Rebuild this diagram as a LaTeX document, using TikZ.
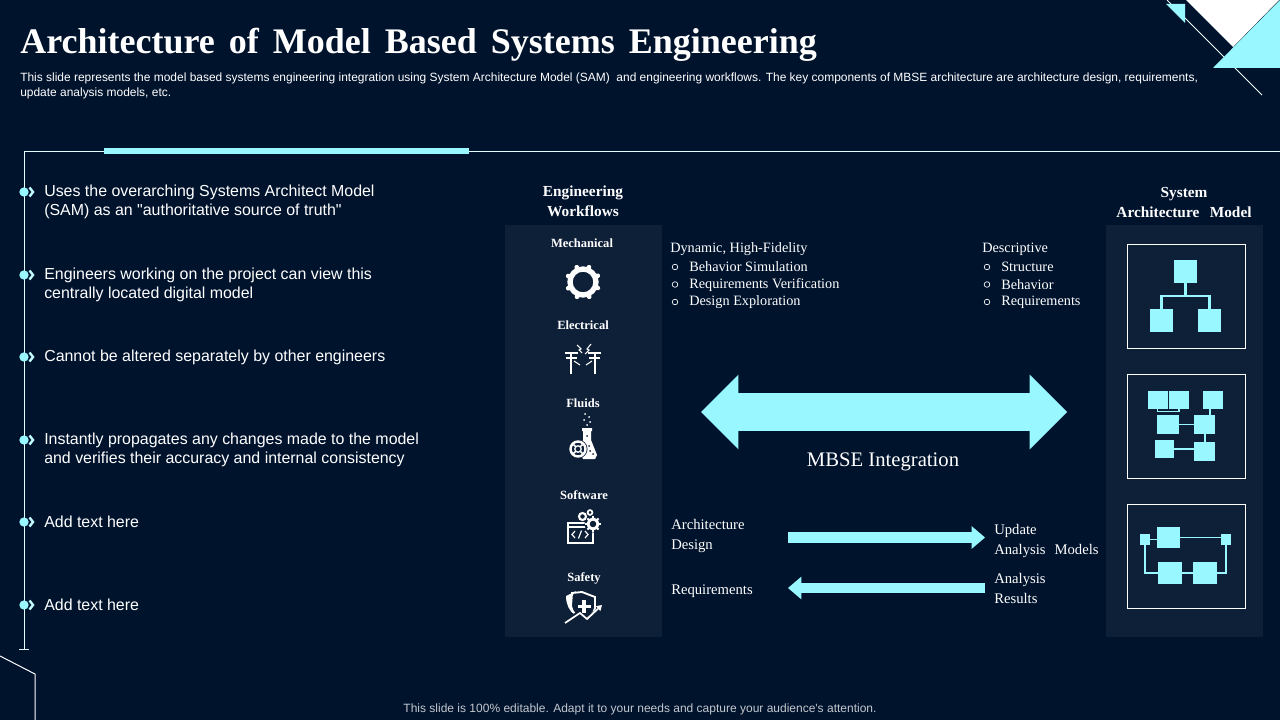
\documentclass[tikz,border=0pt]{standalone}
\usepackage{fontspec}
\setmainfont{Liberation Serif}
\newfontfamily\bodyfont{Liberation Sans}
\usetikzlibrary{arrows.meta}
\definecolor{bgnavy}{HTML}{00132D}
\definecolor{panelnavy}{HTML}{0E1F38}
\definecolor{aqua}{HTML}{99F8FF}
\definecolor{footgray}{HTML}{C4C8CE}
\tikzset{
    txt/.style={inner sep=0pt,text=white,align=left,anchor=west},
    itemtext/.style={txt,font=\bodyfont\fontsize{11.95}{14.25}\selectfont},
    serifthin/.style={txt,font=\fontsize{10.7}{13.2}\selectfont},
    serifwide/.style={txt,font=\fontsize{11}{15}\selectfont},
    heading/.style={inner sep=0pt,text=white,align=center,font=\bfseries\fontsize{11.5}{15}\selectfont},
    iconlabel/.style={inner sep=0pt,text=white,font=\bfseries\fontsize{9.4}{11}\selectfont},
    dot/.style={circle,fill=aqua,inner sep=0pt,minimum size=7pt},
    panel/.style={fill=panelnavy},
    modelbox/.style={draw=white,line width=.6pt,fill=panelnavy},
    sq/.style={fill=aqua,inner sep=0pt},
    link/.style={draw=aqua,line width=#1},
    link/.default=1.4pt,
    icon/.style={white,line width=1.2pt},
    flow/.style={draw=aqua,line width=8pt,-{Triangle[length=10pt,width=17pt,line width=0pt,fill=aqua]}},
    bigflow/.style={draw=aqua,line width=28.5pt,{Triangle[length=28pt,width=56pt,line width=0pt,fill=aqua]}-{Triangle[length=28pt,width=56pt,line width=0pt,fill=aqua]}}
}
\begin{document}
\begin{tikzpicture}[x=.75pt,y=-.75pt]
    \useasboundingbox (0,0) rectangle (1280,720);
    \fill[bgnavy] (0,0) rectangle (1280,720);
    % corner decoration
    \coordinate (diagA) at (1167,0);
    \coordinate (diagB) at (1262,95);
    \draw[white!85!aqua,line width=.6pt] (diagA) -- (diagB);
    \fill[white] (1186,0) -- (1279,0) -- (1233,47) -- cycle;
    \fill[aqua] (1213,68) -- (1280,68) -- (1280,0) -- cycle;
    \fill[aqua] (1166,4) -- (1185,4) -- (1185,23) -- cycle;
    \draw[white,line width=.75pt] (0,656) -- (35,674) -- (35,720);
    % title
    \node[txt,font=\bfseries\fontsize{27}{30}\selectfont] (title) at (20,45) {\spaceskip=10.5pt\relax Architecture of Model Based Systems Engineering};
    \node[txt,font=\bodyfont\fontsize{8.97}{11}\selectfont] (intro) at (20,86) {This slide represents the model based systems engineering integration using System Architecture Model (SAM)~ and engineering workflows. The key components of MBSE architecture are architecture design, requirements,\\update analysis models, etc.};
    \node[inner sep=0pt,text=footgray,font=\bodyfont\fontsize{9}{11}\selectfont] (foot) at (640,709) {This slide is 100\% editable. Adapt it to your needs and capture your audience's attention.};
    % rules
    \coordinate (railtop) at (24,151);
    \coordinate (railend) at (24,649);
    \coordinate (ruleend) at (1280,151);
    \draw[white!70!aqua,line width=.7pt] (ruleend) -- (railtop) -- (railend);
    \draw[white!70!aqua,line width=.7pt] (19,649) -- (29,649);
    \fill[aqua] (104,148) rectangle (469,154);
    % bullets
    \foreach \i/\y in {1/192,2/275,3/357,4/440,5/522,6/605} {
        \node[dot] (dot\i) at (24,\y) {};
        \draw[white!40!aqua,line width=1.8pt] (29.5,\y-4.5) -- (33,\y) -- (29.5,\y+4.5);
    }
    \node[itemtext] (item1) at (44,202) {Uses the overarching Systems Architect Model\\(SAM) as an "authoritative source of truth"};
    \node[itemtext] (item2) at (44,285) {Engineers working on the project can view this\\centrally located digital model};
    \node[itemtext] (item3) at (44,357) {Cannot be altered separately by other engineers};
    \node[itemtext] (item4) at (44,450) {Instantly propagates any changes made to the model\\and verifies their accuracy and internal consistency};
    \node[itemtext] (item5) at (44,521.5) {Add text here};
    \node[itemtext] (item6) at (44,604.5) {Add text here};
    % panels
    \fill[panel] (505,225) rectangle (662,637);
    \fill[panel] (1106,225) rectangle (1263,637);
    \node[heading] (wfhead) at (583,201.5) {Engineering\\Workflows};
    \node[heading] (samhead) at (1184,202.5) {System\\Architecture\hspace{5pt} Model};
    \foreach \nm/\x/\y/\lab in {mech/582/243/Mechanical,elec/583/325/Electrical,fluid/583/403/Fluids,soft/584/495/Software,safe/584/578/Safety} {
        \node[iconlabel] (\nm) at (\x,\y) {\lab};
    }
    % gear
    \draw[white,line width=4pt] (583,282) circle [radius=13];
    \foreach \a in {0,45,...,315} {\draw[white,line width=3.5pt,line cap=round] (583,282) ++(\a+22:14) -- ++(\a+22:2);}
    % electrical
    \draw[icon,line width=1.8pt] (571,352) -- (571,374) (595,352) -- (595,374);
    \draw[icon,line width=1.4pt] (565,353) -- (578,353) (566,358) -- (577,358) (588,353) -- (601,353) (589,358) -- (600,358);
    \draw[icon,line width=.8pt] (577,345) -- (581,349) -- (579,350) -- (582,353);
    \draw[icon,line width=.8pt] (591,344) -- (587,349) -- (589,350) -- (585,354);
    \draw[icon,line width=.8pt] (574,361) -- (580,365) (592,361) -- (586,365);
    % flask
    \fill[white] (582,428) -- (592,428) -- (592,431) -- (591,431) -- (591,440) -- (597,455) -- (595,459) -- (583,459) -- (578,449) -- (583,440) -- (583,431) -- (582,431) -- cycle;
    \foreach \x/\y in {585/414,589/417,584/420,590/422,587/425} {\fill[white] (\x,\y) circle [radius=1];}
    \foreach \x/\y in {587/436,589/446,590/451,593/454} {\fill[panelnavy] (\x,\y) circle [radius=1];}
    \fill[panelnavy] (578,449) circle [radius=9.5];
    \draw[white,line width=1.8pt] (578,449) circle [radius=7.5];
    \draw[white,line width=1pt] (578,449) circle [radius=3.2];
    \foreach \a in {45,135,225,315} {\draw[white,line width=1.2pt] (578,449) ++(\a:3.2) -- ++(\a:3.4);}
    % software
    \draw[white,line width=1.5pt] (567.5,523) rectangle (593,542.5);
    \draw[white,line width=1.5pt] (567.5,527) -- (587,527);
    \draw[white,line width=.9pt] (575,531) -- (572,534.5) -- (575,538) (585,531) -- (588,534.5) -- (585,538) (581.5,530.5) -- (578.5,538.5);
    \fill[panelnavy] (593,524) circle [radius=8.5];
    \draw[white,line width=2.2pt] (593,524) circle [radius=5];
    \foreach \a in {0,45,...,315} {\draw[white,line width=1.5pt] (593,524) ++(\a:6) -- ++(\a:1.8);}
    \draw[white,line width=1.6pt] (582.5,516.5) circle [radius=3.5];
    \draw[white,line width=1.3pt] (590,512.5) circle [radius=2.4];
    % shield
    \draw[white,line width=1.4pt] (572,593) -- (582,592) -- (595,597) -- (595,608) .. controls (594,614) and (589,618) .. (583,620) .. controls (577,618) and (572,612) .. (571,606) -- cycle;
    \fill[white] (566,596) -- (576,591) -- (572,596) -- (571,608) -- (575,615) .. controls (569,611) and (566,604) .. (566,596) -- cycle;
    \draw[white,line width=2.8pt] (584,600) -- (584,613) (577.5,606.5) -- (590.5,606.5);
    \fill[panelnavy] (563,618) -- (580,611) -- (587,617) -- (604,603) -- (604,616) -- (584,626) -- (563,626) -- cycle;
    \draw[white,line width=1.3pt,-{Triangle[length=4pt,width=5pt,line width=0pt]}] (565,623) -- (580,613) -- (587,619) -- (602,605);
    % middle texts
    \node[serifthin] (dyn) at (670,249.5) {Dynamic, High-Fidelity};
    \foreach \nm/\y/\lab in {sim/267/Behavior Simulation,ver/284.5/Requirements Verification,expl/302/Design Exploration} {
        \draw[white,line width=.5pt] (675,\y) circle [radius=2.8];
        \node[serifthin] (\nm) at (689,\y) {\lab};
    }
    \node[serifthin] (descr) at (982,249.5) {Descriptive};
    \foreach \nm/\y/\lab in {struct/267/Structure,behav/284.5/Behavior,reqs/302/Requirements} {
        \draw[white,line width=.5pt] (987,\y) circle [radius=2.8];
        \node[serifthin] (\nm) at (1001,\y) {\lab};
    }
    \coordinate (bigL) at (701,412);
    \coordinate (bigR) at (1067,412);
    \draw[bigflow] (bigL) -- (bigR);
    \node[inner sep=0pt,text=white,font=\fontsize{15.5}{18}\selectfont] (mbse) at (883,462) {MBSE Integration};
    \node[serifwide] (archdes) at (671,536) {Architecture\\Design};
    \node[serifwide] (upd) at (994,541) {Update\\Analysis\hspace{4pt} Models};
    \node[serifwide] (req) at (671,591) {Requirements};
    \node[serifwide] (results) at (994,588) {Analysis\\Results};
    \coordinate (flowAa) at (788,537.5);
    \coordinate (flowAb) at (985,537.5);
    \coordinate (flowBa) at (985,588);
    \coordinate (flowBb) at (788,588);
    \draw[flow] (flowAa) -- (flowAb);
    \draw[flow] (flowBa) -- (flowBb);
    % model boxes
    \foreach \y in {244,374,504} {\draw[modelbox] (1127,\y) rectangle (1245,\y+104);}
    \foreach \nm/\x/\y/\w/\h in {tr/1185.5/271.5/23/23,bl/1161.5/320.5/23/23,br/1209.5/320.5/23/23,
        na/1158/400/20/18,nb/1179/400/20/18,nc/1213/400/20/18,nd/1168/424.5/22/19,ne/1204.5/424.5/21/19,nf/1164.5/449/19/18,ng/1204.5/451.5/21/19,
        la/1145/539.5/10/11,lb/1168.5/537.5/23/21,lc/1226/539.5/10/11,ld/1170/573/24/22,le/1205/573/24/22} {
        \node[sq,minimum width=\w*.75pt,minimum height=\h*.75pt] (\nm) at (\x,\y) {};
    }
    \draw[link=2pt] (tr.south) -- (1185.5,296) coordinate (fork);
    \draw[link=2pt] (bl.north) |- (fork) -| (br.north);
    \draw[link] (1157.5,409) |- (1179,411.5) -- (1179,409);
    \draw[link] (nd) -- (ne);
    \draw[link] (1210,409) -- (1210,415);
    \draw[link] (1205,434) -- (1205,442);
    \draw[link] (nf) -- (nf -| ng.west);
    \draw[link] (la) -- (la -| lb.west);
    \draw[link] (lb.east) -- (lb.east -| lc.west);
    \draw[link] (la) |- (ld);
    \draw[link] (ld) -- (le);
    \draw[link] (le) -| (lc);
\end{tikzpicture}
\end{document}
